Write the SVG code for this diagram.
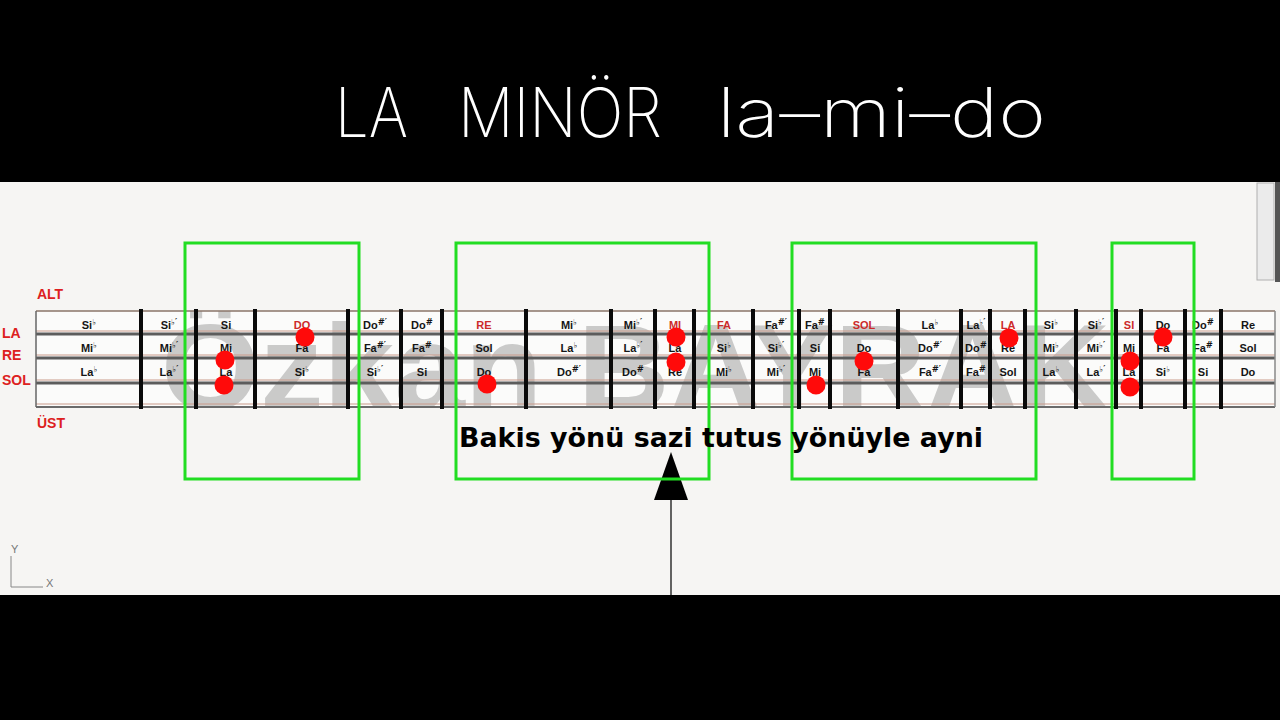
<svg xmlns="http://www.w3.org/2000/svg" width="1280" height="720" viewBox="0 0 1280 720">
<defs>
<style>
.title{font-family:Inter,"DejaVu Sans",sans-serif;font-weight:200;font-size:68px;fill:#fff}
.n{font-family:"Liberation Sans",Arial,sans-serif;font-weight:bold;font-size:11px;fill:#151515;text-anchor:middle}
.r{font-family:"Liberation Sans",Arial,sans-serif;font-weight:bold;font-size:11px;fill:#cc2a2a;text-anchor:middle}
.s{font-family:"DejaVu Sans",sans-serif;font-size:8.5px;fill:#151515}
.lbl{font-family:"Liberation Sans",Arial,sans-serif;font-weight:bold;font-size:14px;fill:#dd2020}
.fret{stroke:#0a0a0a;stroke-width:4}
.str{stroke:#5c5c5c;stroke-width:3}
.strr{stroke:#c99a8a;stroke-width:1}
.box{fill:none;stroke:#22dd22;stroke-width:3}
.dot{fill:#ff0a0a}
.cap{font-family:"DejaVu Sans",Verdana,sans-serif;font-weight:bold;font-size:26px;fill:#000}
.ucs{font-family:"Liberation Sans",Arial,sans-serif;font-size:11px;fill:#777}
</style>
<clipPath id="fbclip"><rect x="36" y="311" width="1239" height="97"/></clipPath>
<marker id="ah" markerUnits="userSpaceOnUse" markerWidth="48" markerHeight="34" viewBox="0 0 48 34" refX="0" refY="17" orient="auto">
<path d="M0,0 L48,17 L0,34 z" fill="#000"/>
</marker>
</defs>

<rect x="0" y="0" width="1280" height="720" fill="#000"/>
<rect x="0" y="182" width="1280" height="413" fill="#f6f5f3"/>

<g id="title">
<text class="title" x="335" y="137" textLength="73" lengthAdjust="spacingAndGlyphs">LA</text>
<text class="title" x="458" y="137" textLength="204" lengthAdjust="spacingAndGlyphs">MINÖR</text>
<text class="title" x="717" y="137" textLength="329" lengthAdjust="spacingAndGlyphs">la–mi–do</text>
</g>

<g id="scrollbar">
<rect x="1257" y="183" width="17" height="97" fill="#ebebeb" stroke="#b0b0b0" stroke-width="1"/>
<rect x="1275" y="182" width="5" height="100" fill="#555"/>
</g>

<g id="labels">
<text class="lbl" x="37" y="299">ALT</text>
<text class="lbl" x="2" y="338">LA</text>
<text class="lbl" x="2" y="360">RE</text>
<text class="lbl" x="2" y="385">SOL</text>
<text class="lbl" x="37" y="428">ÜST</text>
</g>

<g id="fretboard">
<rect x="36" y="311" width="1239" height="96" fill="#fbfbfa"/>
<g id="watermark" clip-path="url(#fbclip)">
<text x="161" y="410" textLength="949" lengthAdjust="spacingAndGlyphs" font-family="Liberation Sans, Arial, sans-serif" font-weight="bold" font-size="122" fill="#9a9a9a" opacity="0.5">Özkan BAYRAK</text>
</g>
<line x1="36" y1="311" x2="1275" y2="311" stroke="#8a7468" stroke-width="1.5"/>
<line class="strr" x1="36" y1="331" x2="1275" y2="331"/>
<line class="str" x1="36" y1="334" x2="1275" y2="334"/>
<line class="strr" x1="36" y1="355" x2="1275" y2="355"/>
<line class="str" x1="36" y1="358" x2="1275" y2="358"/>
<line class="strr" x1="36" y1="380" x2="1275" y2="380"/>
<line class="str" x1="36" y1="383" x2="1275" y2="383"/>
<line class="strr" x1="36" y1="404" x2="1275" y2="404"/>
<line x1="36" y1="407" x2="1275" y2="407" stroke="#6a6a6a" stroke-width="2"/>
<line x1="36" y1="311" x2="36" y2="407" stroke="#666" stroke-width="1.5"/>
<line x1="1275" y1="311" x2="1275" y2="407" stroke="#888" stroke-width="1.5"/>
<g id="frets">
<line class="fret" x1="141" y1="309" x2="141" y2="409"/>
<line class="fret" x1="196" y1="309" x2="196" y2="409"/>
<line class="fret" x1="255" y1="309" x2="255" y2="409"/>
<line class="fret" x1="348" y1="309" x2="348" y2="409"/>
<line class="fret" x1="401" y1="309" x2="401" y2="409"/>
<line class="fret" x1="442" y1="309" x2="442" y2="409"/>
<line class="fret" x1="526" y1="309" x2="526" y2="409"/>
<line class="fret" x1="611" y1="309" x2="611" y2="409"/>
<line class="fret" x1="655" y1="309" x2="655" y2="409"/>
<line class="fret" x1="694" y1="309" x2="694" y2="409"/>
<line class="fret" x1="753" y1="309" x2="753" y2="409"/>
<line class="fret" x1="799" y1="309" x2="799" y2="409"/>
<line class="fret" x1="830" y1="309" x2="830" y2="409"/>
<line class="fret" x1="898" y1="309" x2="898" y2="409"/>
<line class="fret" x1="961" y1="309" x2="961" y2="409"/>
<line class="fret" x1="990" y1="309" x2="990" y2="409"/>
<line class="fret" x1="1025" y1="309" x2="1025" y2="409"/>
<line class="fret" x1="1076" y1="309" x2="1076" y2="409"/>
<line class="fret" x1="1116" y1="309" x2="1116" y2="409"/>
<line class="fret" x1="1141" y1="309" x2="1141" y2="409"/>
<line class="fret" x1="1185" y1="309" x2="1185" y2="409"/>
<line class="fret" x1="1221" y1="309" x2="1221" y2="409"/>
</g>

<g id="row-la">
<text class="n" x="89" y="329">Si<tspan class="s" dy="-4">♭</tspan></text>
<text class="n" x="169" y="329">Si<tspan class="s" dy="-4">♭′</tspan></text>
<text class="n" x="226" y="329">Si</text>
<text class="r" x="302" y="329">DO</text>
<text class="n" x="375" y="329">Do<tspan class="s" dy="-4">#′</tspan></text>
<text class="n" x="422" y="329">Do<tspan class="s" dy="-4">#</tspan></text>
<text class="r" x="484" y="329">RE</text>
<text class="n" x="569" y="329">Mi<tspan class="s" dy="-4">♭</tspan></text>
<text class="n" x="633" y="329">Mi<tspan class="s" dy="-4">♭′</tspan></text>
<text class="r" x="675" y="329">MI</text>
<text class="r" x="724" y="329">FA</text>
<text class="n" x="776" y="329">Fa<tspan class="s" dy="-4">#′</tspan></text>
<text class="n" x="815" y="329">Fa<tspan class="s" dy="-4">#</tspan></text>
<text class="r" x="864" y="329">SOL</text>
<text class="n" x="930" y="329">La<tspan class="s" dy="-4">♭</tspan></text>
<text class="n" x="976" y="329">La<tspan class="s" dy="-4">♭′</tspan></text>
<text class="r" x="1008" y="329">LA</text>
<text class="n" x="1051" y="329">Si<tspan class="s" dy="-4">♭</tspan></text>
<text class="n" x="1096" y="329">Si<tspan class="s" dy="-4">♭′</tspan></text>
<text class="r" x="1129" y="329">SI</text>
<text class="n" x="1163" y="329">Do</text>
<text class="n" x="1203" y="329">Do<tspan class="s" dy="-4">#</tspan></text>
<text class="n" x="1248" y="329">Re</text>
</g>

<g id="row-re">
<text class="n" x="89" y="352">Mi<tspan class="s" dy="-4">♭</tspan></text>
<text class="n" x="169" y="352">Mi<tspan class="s" dy="-4">♭′</tspan></text>
<text class="n" x="226" y="352">Mi</text>
<text class="n" x="302" y="352">Fa</text>
<text class="n" x="375" y="352">Fa<tspan class="s" dy="-4">#′</tspan></text>
<text class="n" x="422" y="352">Fa<tspan class="s" dy="-4">#</tspan></text>
<text class="n" x="484" y="352">Sol</text>
<text class="n" x="569" y="352">La<tspan class="s" dy="-4">♭</tspan></text>
<text class="n" x="633" y="352">La<tspan class="s" dy="-4">♭′</tspan></text>
<text class="n" x="675" y="352">La</text>
<text class="n" x="724" y="352">Si<tspan class="s" dy="-4">♭</tspan></text>
<text class="n" x="776" y="352">Si<tspan class="s" dy="-4">♭′</tspan></text>
<text class="n" x="815" y="352">Si</text>
<text class="n" x="864" y="352">Do</text>
<text class="n" x="930" y="352">Do<tspan class="s" dy="-4">#′</tspan></text>
<text class="n" x="976" y="352">Do<tspan class="s" dy="-4">#</tspan></text>
<text class="n" x="1008" y="352">Re</text>
<text class="n" x="1051" y="352">Mi<tspan class="s" dy="-4">♭</tspan></text>
<text class="n" x="1096" y="352">Mi<tspan class="s" dy="-4">♭′</tspan></text>
<text class="n" x="1129" y="352">Mi</text>
<text class="n" x="1163" y="352">Fa</text>
<text class="n" x="1203" y="352">Fa<tspan class="s" dy="-4">#</tspan></text>
<text class="n" x="1248" y="352">Sol</text>
</g>

<g id="row-sol">
<text class="n" x="89" y="376">La<tspan class="s" dy="-4">♭</tspan></text>
<text class="n" x="169" y="376">La<tspan class="s" dy="-4">♭′</tspan></text>
<text class="n" x="226" y="376">La</text>
<text class="n" x="302" y="376">Si<tspan class="s" dy="-4">♭</tspan></text>
<text class="n" x="375" y="376">Si<tspan class="s" dy="-4">♭′</tspan></text>
<text class="n" x="422" y="376">Si</text>
<text class="n" x="484" y="376">Do</text>
<text class="n" x="569" y="376">Do<tspan class="s" dy="-4">#′</tspan></text>
<text class="n" x="633" y="376">Do<tspan class="s" dy="-4">#</tspan></text>
<text class="n" x="675" y="376">Re</text>
<text class="n" x="724" y="376">Mi<tspan class="s" dy="-4">♭</tspan></text>
<text class="n" x="776" y="376">Mi<tspan class="s" dy="-4">♭′</tspan></text>
<text class="n" x="815" y="376">Mi</text>
<text class="n" x="864" y="376">Fa</text>
<text class="n" x="930" y="376">Fa<tspan class="s" dy="-4">#′</tspan></text>
<text class="n" x="976" y="376">Fa<tspan class="s" dy="-4">#</tspan></text>
<text class="n" x="1008" y="376">Sol</text>
<text class="n" x="1051" y="376">La<tspan class="s" dy="-4">♭</tspan></text>
<text class="n" x="1096" y="376">La<tspan class="s" dy="-4">♭′</tspan></text>
<text class="n" x="1129" y="376">La</text>
<text class="n" x="1163" y="376">Si<tspan class="s" dy="-4">♭</tspan></text>
<text class="n" x="1203" y="376">Si</text>
<text class="n" x="1248" y="376">Do</text>
</g>
</g>

<g id="dots">
<circle class="dot" cx="305" cy="337" r="9.5"/>
<circle class="dot" cx="225" cy="360" r="9.5"/>
<circle class="dot" cx="224" cy="385" r="9.5"/>
<circle class="dot" cx="487" cy="384" r="9.5"/>
<circle class="dot" cx="676" cy="337" r="9.5"/>
<circle class="dot" cx="676" cy="362" r="9.5"/>
<circle class="dot" cx="816" cy="385" r="9.5"/>
<circle class="dot" cx="864" cy="361" r="9.5"/>
<circle class="dot" cx="1009" cy="338" r="9.5"/>
<circle class="dot" cx="1163" cy="337" r="9.5"/>
<circle class="dot" cx="1130" cy="361" r="9.5"/>
<circle class="dot" cx="1130" cy="387" r="9.5"/>
</g>

<g id="connectors">
<line x1="671" y1="595" x2="671" y2="500" stroke="#000" stroke-width="1.2" marker-end="url(#ah)"/>
</g>

<g id="boxes">
<rect id="box1" class="box" x="185" y="243" width="174" height="236"/>
<rect id="box2" class="box" x="456" y="243" width="253" height="236"/>
<rect id="box3" class="box" x="792" y="243" width="244" height="236"/>
<rect id="box4" class="box" x="1112" y="243" width="82" height="236"/>
</g>

<g id="caption">
<text class="cap" x="459" y="447" textLength="524" lengthAdjust="spacingAndGlyphs">Bakis yönü sazi tutus yönüyle ayni</text>
</g>

<g id="ucs">
<polyline points="11,556 11,587 43,587" fill="none" stroke="#888" stroke-width="1"/>
<text class="ucs" x="11" y="553">Y</text>
<text class="ucs" x="46" y="587">X</text>
</g>
</svg>
